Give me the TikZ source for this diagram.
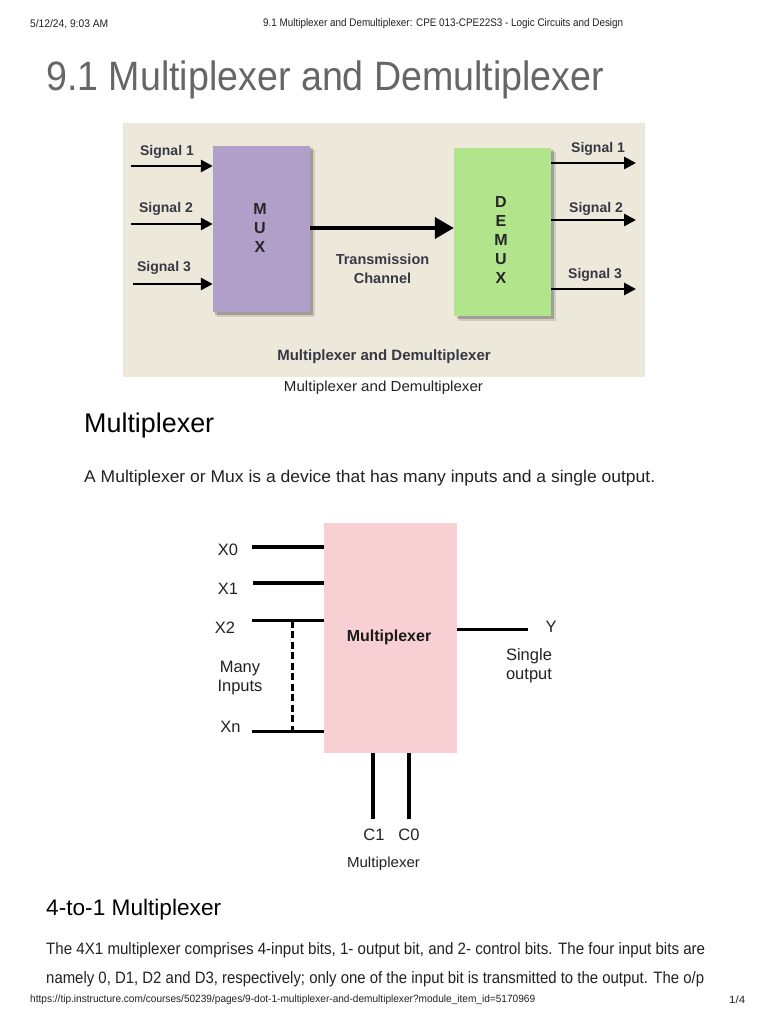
\documentclass[tikz,border=0pt]{standalone}
\usepackage{fontspec}
\setmainfont{Liberation Sans}
\usetikzlibrary{arrows.meta}
\definecolor{bgbeige}{HTML}{ECE9DB}
\definecolor{muxpurple}{HTML}{B09FC8}
\definecolor{demuxgreen}{HTML}{B2E48B}
\definecolor{mpink}{HTML}{F8D0D4}
\definecolor{figtext}{HTML}{383844}
\definecolor{titlegray}{HTML}{666666}
\definecolor{bodytext}{HTML}{222222}
\newcommand\fitw[3]{\resizebox{#1}{\height}{\fontsize{#2}{#2}\selectfont #3}}
\begin{document}
\begin{tikzpicture}[x=1pt,y=-1pt,
  txt/.style={inner sep=0pt, text=bodytext},
  lbl/.style={inner sep=0pt, text=figtext, font=\fontsize{14}{14}\selectfont\bfseries},
  sig/.style={line width=2.8pt, -{Triangle[length=12pt,width=12pt]}},
  chan/.style={line width=4pt, -{Triangle[length=19pt,width=21pt]}},
  wire/.style={line width=3.1pt, black},
  flbl/.style={inner sep=0pt, text=bodytext, font=\fontsize{16.5}{19}\selectfont, align=center},
  shadowA/.style={fill=black, opacity=0.22},
  shadowB/.style={fill=black, opacity=0.12}]
\useasboundingbox (0,0) rectangle (768,1024);
\fill[white] (0,0) rectangle (768,1024);

% header
\node[txt, anchor=west] (hdate) at (30,24) {\fitw{78pt}{11}{5/12/24, 9:03 AM}};
\node[txt, anchor=west] (htitle) at (263,24) {\fitw{360pt}{11}{9.1 Multiplexer and Demultiplexer: CPE 013-CPE22S3 - Logic Circuits and Design}};

% title
\node[txt, anchor=west, text=titlegray] (title) at (46,80) {\fitw{558pt}{41}{9.1 Multiplexer and Demultiplexer}};

% figure 1
\fill[bgbeige] (123,123) rectangle (645,377);
\fill[shadowB] (217,150) rectangle (315,317);
\fill[shadowA] (215,148) rectangle (313,315);
\fill[shadowB] (459,152) rectangle (556,321);
\fill[shadowA] (457,150) rectangle (554,319);
\node[fill=muxpurple, minimum width=97pt, minimum height=166pt, inner sep=0pt] (mux) at (261.5,229) {};
\node[fill=demuxgreen, minimum width=97pt, minimum height=168pt, inner sep=0pt] (demux) at (502.5,232) {};
\node[lbl, align=center, font=\fontsize{16}{19}\selectfont\bfseries, text=black!85] (muxtxt) at (260,228) {M\\U\\X};
\node[lbl, align=center, font=\fontsize{16}{19}\selectfont\bfseries, text=black!85] (demuxtxt) at (501,240) {D\\E\\M\\U\\X};

\coordinate (in1) at (131,166);
\coordinate (in2) at (131,224);
\coordinate (in3) at (133,284);
\draw[sig] (in1) -- (mux.west |- in1);
\draw[sig] (in2) -- (mux.west |- in2);
\draw[sig] (in3) -- (mux.west |- in3);
\node[lbl] (ls1) at (167,152) {Signal 1};
\node[lbl] (ls2) at (166,209) {Signal 2};
\node[lbl] (ls3) at (164,268) {Signal 3};

\coordinate (chy) at (0,228);
\draw[chan] (mux.east |- chy) -- (demux.west |- chy);
\node[lbl, align=center, font=\fontsize{14.5}{18.5}\selectfont\bfseries] (chtxt) at (382.5,269) {Transmission\\Channel};

\coordinate (out1) at (636,163);
\coordinate (out2) at (636,220);
\coordinate (out3) at (636,289);
\draw[sig] (demux.east |- out1) -- (out1);
\draw[sig] (demux.east |- out2) -- (out2);
\draw[sig] (demux.east |- out3) -- (out3);
\node[lbl] (rs1) at (598,149) {Signal 1};
\node[lbl] (rs2) at (596,209) {Signal 2};
\node[lbl] (rs3) at (595,275) {Signal 3};

\node[lbl, font=\fontsize{15}{15}\selectfont\bfseries] (figcap) at (384,357) {Multiplexer and Demultiplexer};

\node[txt] (cap1) at (383.5,388) {\fitw{199pt}{14.5}{Multiplexer and Demultiplexer}};

% section
\node[txt, anchor=west, text=black] (h2) at (84,426) {\fitw{130pt}{27}{Multiplexer}};
\node[txt, anchor=west] (p1) at (84,478) {\fitw{571pt}{17}{A Multiplexer or Mux is a device that has many inputs and a single output.}};

% figure 2
\node[fill=mpink, minimum width=133pt, minimum height=230pt, inner sep=0pt] (mbox) at (390.5,638) {};
\node[inner sep=0pt, font=\fontsize{16}{16}\selectfont\bfseries, text=black!90] (mtxt) at (389,637) {Multiplexer};

\coordinate (x0) at (252,547);
\coordinate (x1) at (253,583);
\coordinate (x2) at (252,620.5);
\coordinate (xn) at (252,731.5);
\draw[wire] (x0) -- (mbox.west |- x0);
\draw[wire] (x1) -- (mbox.west |- x1);
\draw[wire] (x2) -- (mbox.west |- x2);
\draw[wire] (xn) -- (mbox.west |- xn);
\coordinate (dtop) at (292.5,620.5);
\coordinate (dbot) at (292.5,731.5);
\draw[line width=3.4pt, dash pattern=on 7pt off 3.5pt] (dtop) -- (dbot);

\node[flbl] (lx0) at (228,550) {X0};
\node[flbl] (lx1) at (228,589) {X1};
\node[flbl] (lx2) at (225,627.5) {X2};
\node[flbl] (lxn) at (230.5,727) {Xn};
\node[flbl] (many) at (240,678.5) {Many\\Inputs};

\coordinate (yend) at (528,629.5);
\draw[wire] (mbox.east |- yend) -- (yend);
\node[flbl] (ly) at (551,627) {Y};
\node[flbl] (single) at (529,666) {Single\\output};

\coordinate (c1end) at (373,819);
\coordinate (c0end) at (409,819);
\draw[wire] (mbox.south -| c1end) -- (c1end);
\draw[wire] (mbox.south -| c0end) -- (c0end);
\node[flbl] (lc1) at (374,835) {C1};
\node[flbl] (lc0) at (409,835) {C0};

\node[txt] (cap2) at (383.5,864) {\fitw{73pt}{14.5}{Multiplexer}};

% next section
\node[txt, anchor=west, text=black] (h3) at (46,910) {\fitw{175pt}{22.5}{4-to-1 Multiplexer}};
\node[txt, anchor=west] (p2) at (46,950) {\fitw{659pt}{16.5}{The 4X1 multiplexer comprises 4-input bits, 1- output bit, and 2- control bits. The four input bits are}};
\node[txt, anchor=west] (p3) at (46,979) {\fitw{658pt}{16.5}{namely 0, D1, D2 and D3, respectively; only one of the input bit is transmitted to the output. The o/p}};

% footer
\node[txt, anchor=west] (url) at (30,1000) {\fitw{505pt}{10.5}{https://tip.instructure.com/courses/50239/pages/9-dot-1-multiplexer-and-demultiplexer?module\_item\_id=5170969}};
\node[txt, anchor=west] (pg) at (729,1000) {\fitw{16pt}{10.5}{1/4}};
\end{tikzpicture}
\end{document}
